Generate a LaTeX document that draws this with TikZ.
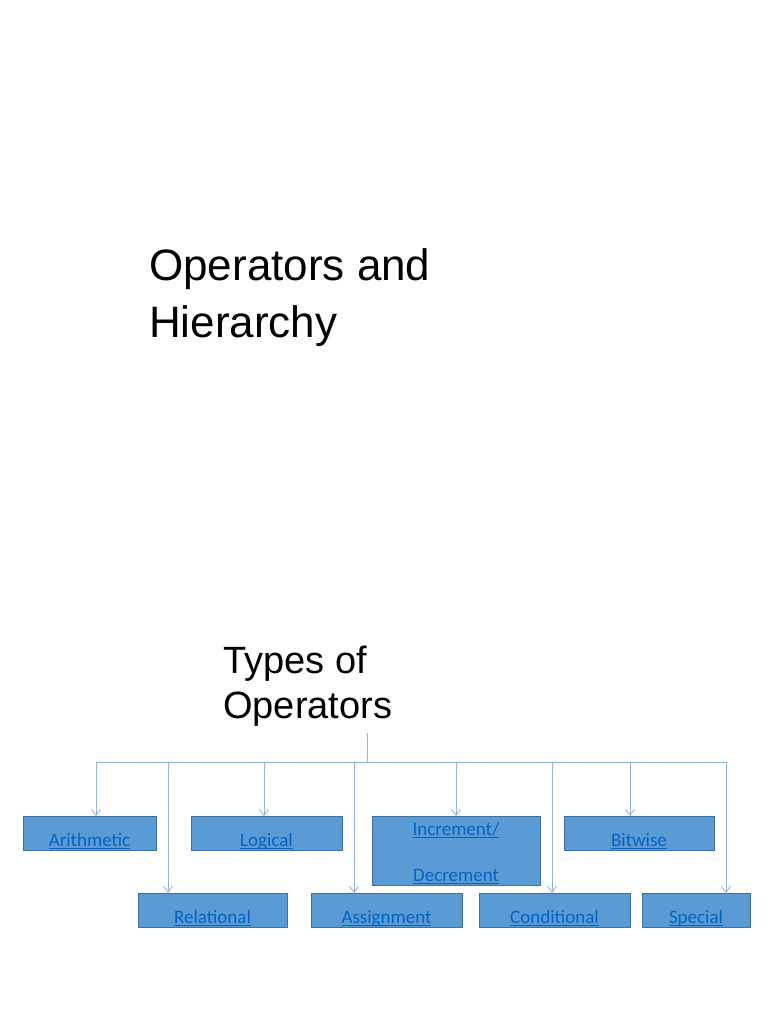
\documentclass[tikz,border=0pt]{standalone}
\usepackage{fontspec}
\setmainfont{Liberation Sans}
\newfontfamily\boxfont{Carlito}
\usetikzlibrary{arrows.meta}
\newcommand\linkul[1]{\setbox0\hbox{#1}\rlap{\rule[-3pt]{\wd0}{1.4pt}}\box0}
\begin{document}
\begin{tikzpicture}[x=1pt,y=-1pt,
  opbox/.style={draw=boxedge,fill=boxfill,line width=0.8pt,inner sep=0pt},
  oplabel/.style={font=\boxfont\fontsize{19}{22}\selectfont,text=linkblue,inner sep=0pt,anchor=base},
  conn/.style={draw=connblue,line width=1pt},
  arr/.style={conn,-{Straight Barb[length=6pt,width=9pt,line width=0.9pt]}},
  title/.style={font=\fontsize{44}{56}\selectfont,anchor=base west,inner sep=0pt},
  subtitle/.style={font=\fontsize{38}{48}\selectfont,anchor=base west,inner sep=0pt}]
\definecolor{boxfill}{HTML}{5B9BD5}
\definecolor{boxedge}{HTML}{41719C}
\definecolor{linkblue}{HTML}{0563C1}
\definecolor{connblue}{HTML}{8FB4DC}
\useasboundingbox (0,0) rectangle (768,1024);
\node[title] (t1a) at (149,280) {Operators and};
\node[title] (t1b) at (149,337) {Hierarchy};
\node[subtitle] (t2a) at (223,673) {Types of};
\node[subtitle] (t2b) at (223,718) {Operators};
% boxes
\path[opbox] (23,816) rectangle (156,850) node[midway] (arith) {};
\path[opbox] (191,816) rectangle (342,850) node[midway] (logic) {};
\path[opbox] (372,816) rectangle (540,885) node[midway] (incr) {};
\path[opbox] (564,816) rectangle (714,850) node[midway] (bitw) {};
\path[opbox] (138,893) rectangle (287,927) node[midway] (rel) {};
\path[opbox] (311,893) rectangle (462,927) node[midway] (asg) {};
\path[opbox] (479,893) rectangle (630,927) node[midway] (cond) {};
\path[opbox] (642,893) rectangle (750,927) node[midway] (spec) {};
\node[oplabel] (l1) at (89.5,846) {\linkul{Arithmetic}};
\node[oplabel] (l2) at (266.5,846) {\linkul{Logical}};
\node[oplabel] (l3) at (456,835) {\linkul{Increment/}};
\node[oplabel] (l4) at (456,881) {\linkul{Decrement}};
\node[oplabel] (l5) at (639,846) {\linkul{Bitwise}};
\node[oplabel] (l6) at (212.5,923) {\linkul{Relational}};
\node[oplabel] (l7) at (386.5,923) {\linkul{Assignment}};
\node[oplabel] (l8) at (554.5,923) {\linkul{Conditional}};
\node[oplabel] (l9) at (696,923) {\linkul{Special}};
% connectors
\coordinate (root) at (367,733);
\coordinate (bus) at (367,762);
\draw[conn] (root) -- (bus);
\draw[conn] (96,762) -- (726,762);
\coordinate (a1) at (96,762); \coordinate (a1e) at (96,816);
\coordinate (a2) at (168,762); \coordinate (a2e) at (168,893);
\coordinate (a3) at (264,762); \coordinate (a3e) at (264,816);
\coordinate (a4) at (354,762); \coordinate (a4e) at (354,893);
\coordinate (a5) at (456,762); \coordinate (a5e) at (456,816);
\coordinate (a6) at (552,762); \coordinate (a6e) at (552,893);
\coordinate (a7) at (630,762); \coordinate (a7e) at (630,816);
\coordinate (a8) at (726,762); \coordinate (a8e) at (726,893);
\foreach \i in {1,...,8} \draw[arr] (a\i) -- (a\i e);
\end{tikzpicture}
\end{document}
